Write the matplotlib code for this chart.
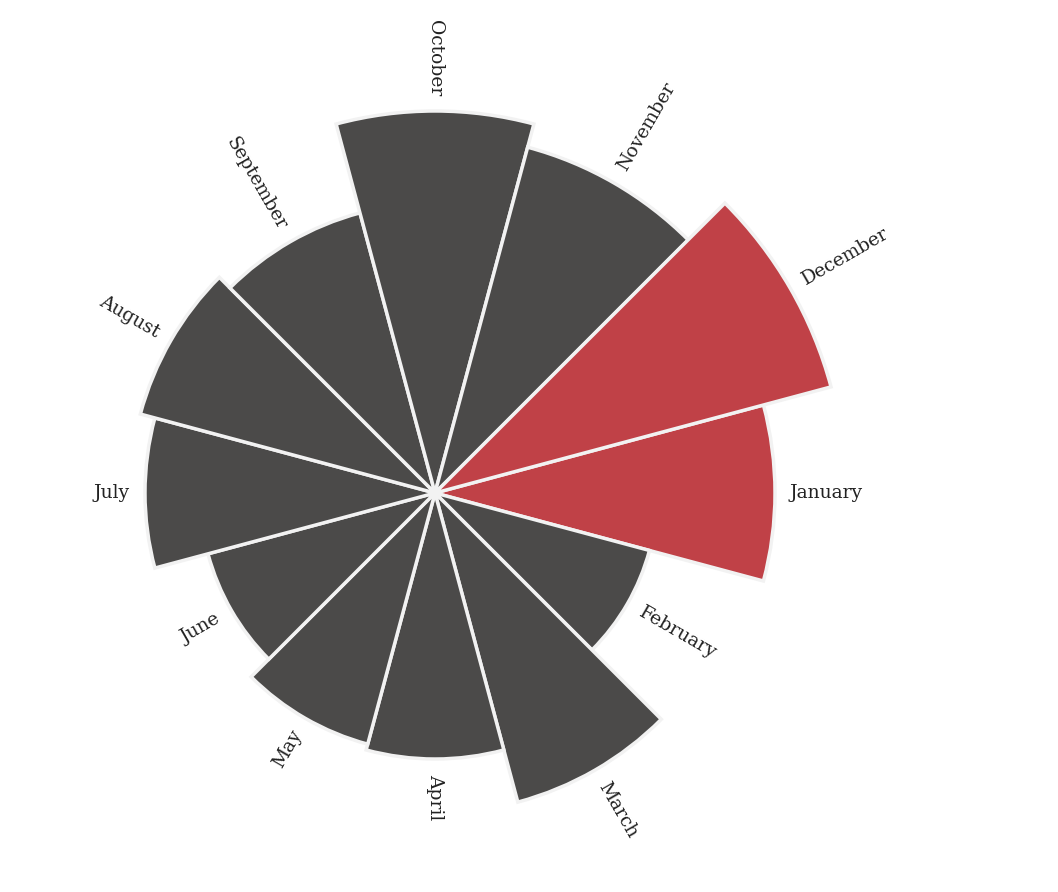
import matplotlib.pyplot as plt
import numpy as np

# Monthly values (radial units)
months = ["January", "February", "March", "April", "May", "June",
          "July", "August", "September", "October", "November", "December"]
values = [34.0, 22.2, 32.0, 26.6, 26.0, 23.5, 29.0, 30.5, 29.0, 38.2, 35.8, 41.0]
highlight = ["January", "December"]

dark = "#4b4a49"
red = "#c04147"

fig = plt.figure(figsize=(10.58, 8.92), dpi=100)
# center of the polar axes sits at (435, 493) px, radius 420 px
R = 420
ax = fig.add_axes([(435 - R) / 1058, (892 - 493 - R) / 892, 2 * R / 1058, 2 * R / 892],
                  projection="polar")
ax.set_theta_zero_location("E")
ax.set_theta_direction(-1)

n = len(months)
theta = np.arange(n) * 2 * np.pi / n
width = 2 * np.pi / n
colors = [red if m in highlight else dark for m in months]

ax.bar(theta, values, width=width, color=colors, edgecolor="#f2f2f2", linewidth=2.5)

ax.set_ylim(0, 42)
ax.set_axis_off()

# labels just outside each bar, rotated along the radius
for t, v, m in zip(theta, values, months):
    ang = -np.degrees(t) % 360
    if 90 <= ang < 270:
        rot = ang - 180
        ha = "right"
    else:
        rot = ang
        ha = "left"
    ax.text(t, v + 1.5, m, rotation=rot, rotation_mode="anchor", ha=ha, va="center",
            family="DejaVu Serif", fontsize=13.5, color="#222222")

plt.savefig("out.png", dpi=100)
